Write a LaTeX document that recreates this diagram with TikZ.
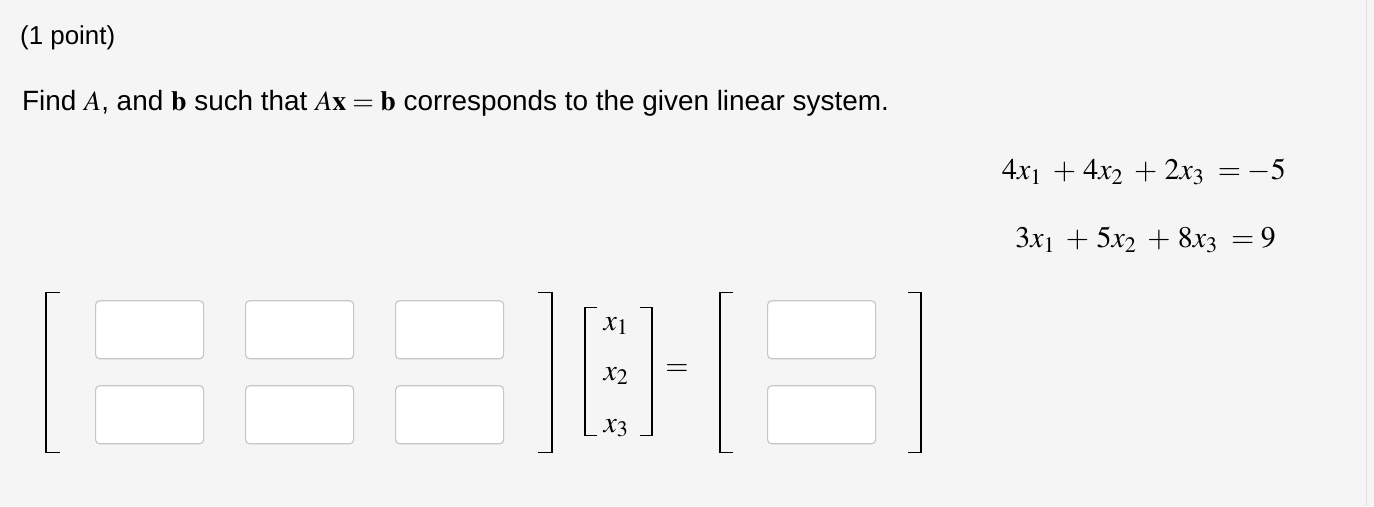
\documentclass[tikz,border=0pt]{standalone}
\usepackage{amsmath}
\usepackage{mathptmx}
\usepackage{fontspec}
\setsansfont{Liberation Sans}
\begin{document}
\begin{tikzpicture}[x=1bp,y=-1bp,
  box/.style={draw=black!22,fill=white,rounded corners=4bp,line width=1.2bp},
  brk/.style={line width=1.2bp},
  sf/.style={font=\sffamily\fontsize{26}{30}\selectfont,anchor=west,inner sep=0},
  mt/.style={font=\fontsize{30}{34}\selectfont,inner sep=0}]
\fill[black!4] (0,0) rectangle (1374,506);
\draw[black!12] (1366,0) -- (1366,506);
\useasboundingbox (0,0) rectangle (1374,506);
\node[sf] (pt) at (20,38) {(1 point)};
\node[sf,font=\sffamily\fontsize{28}{32}\selectfont] (q) at (22,103) {Find $A$, and $\mathbf{b}$ such that $A\mathbf{x}=\mathbf{b}$ corresponds to the given linear system.};
\node[mt,anchor=east] (e1) at (1286,172) {$4x_1\;+\,4x_2\;+\,2x_3\;=-5$};
\node[mt,anchor=east] (e2) at (1276,240) {$3x_1\;+\,5x_2\;+\,8x_3\;=9$};
% left matrix
\draw[brk] (60,292) -- (46,292) -- (46,452) -- (60,452);
\draw[brk] (538,292) -- (552,292) -- (552,452) -- (538,452);
\foreach \x/\n in {95/a,245/b,395/c}{
  \node[box,minimum width=108bp,minimum height=58bp,anchor=north west] (\n1) at (\x,300) {};
  \node[box,minimum width=108bp,minimum height=58bp,anchor=north west] (\n2) at (\x,385) {};}
% vector
\draw[brk] (597,307) -- (585,307) -- (585,435) -- (597,435);
\draw[brk] (640,307) -- (652,307) -- (652,435) -- (640,435);
\node[mt] (x1) at (616,326) {$x_1$};
\node[mt] (x2) at (616,376) {$x_2$};
\node[mt] (x3) at (616,428) {$x_3$};
\node[mt] (eq) at (677,370) {$=$};
% right
\draw[brk] (733,292) -- (720,292) -- (720,452) -- (733,452);
\draw[brk] (908,292) -- (921,292) -- (921,452) -- (908,452);
\node[box,minimum width=108bp,minimum height=58bp,anchor=north west] (r1) at (767,300) {};
\node[box,minimum width=108bp,minimum height=58bp,anchor=north west] (r2) at (767,385) {};
\end{tikzpicture}
\end{document}
